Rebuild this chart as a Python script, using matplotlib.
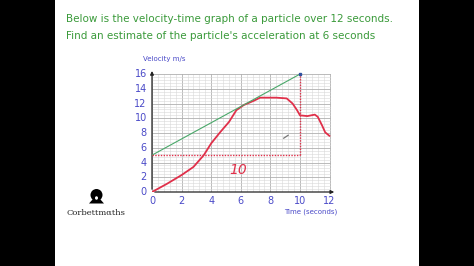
import matplotlib.pyplot as plt
from matplotlib.patches import Rectangle, Ellipse, Polygon

# -----------------------------
# Data
# -----------------------------
time = [0, 1, 2, 2.8, 3.5, 4.0, 4.6, 5.2, 5.7, 6.2, 6.9, 7.3, 8.4, 9.1,
        9.5, 9.8, 10.0, 10.5, 11.0, 11.2, 11.5, 11.7, 12.0]
velocity = [0, 1.1, 2.3, 3.4, 5.0, 6.6, 8.1, 9.5, 11.1, 11.8, 12.4, 12.8,
            12.8, 12.7, 12.0, 11.1, 10.4, 10.3, 10.5, 10.2, 9.0, 8.1, 7.6]

tangent_t = [0, 10]
tangent_v = [5, 16]

x_ticks = [0, 2, 4, 6, 8, 10, 12]
y_ticks = [0, 2, 4, 6, 8, 10, 12, 14, 16]

blue = '#4a4ac8'
red = '#e0304a'
green = '#3a9a3a'

W, H = 474, 266


def fx(px):
    return px / W


def fy(py):
    return 1 - py / H


# -----------------------------
# Figure
# -----------------------------
fig = plt.figure(figsize=(4.74, 2.66), dpi=100)
fig.patch.set_facecolor('black')
fig.patches.append(Rectangle((fx(55), 0), 364 / W, 1, transform=fig.transFigure,
                             facecolor='white', edgecolor='none', zorder=-5))

fig.text(fx(66), fy(22), 'Below is the velocity-time graph of a particle over 12 seconds.',
         color=green, fontsize=7.5, va='baseline')
fig.text(fx(66), fy(39), "Find an estimate of the particle's acceleration at 6 seconds",
         color=green, fontsize=7.5, va='baseline')

ax = fig.add_axes([fx(152), 74 / H, 12.5 * 14.8 / W, 16.8 * 7.37 / H])
ax.set_xlim(0, 12.5)
ax.set_ylim(0, 16.8)
ax.axis('off')

# graph paper grid
for i in range(31):
    x = i * 0.4
    major = i % 5 == 0
    ax.plot([x, x], [0, 16], color='#b0b0b0' if major else '#d8d8d8',
            lw=0.6 if major else 0.4, zorder=1)
for i in range(41):
    y = i * 0.4
    major = i % 5 == 0
    ax.plot([0, 12], [y, y], color='#b0b0b0' if major else '#d8d8d8',
            lw=0.6 if major else 0.4, zorder=1)

# axes with arrows
ax.annotate('', xy=(12.5, 0), xytext=(0, 0),
            arrowprops=dict(arrowstyle='-|>', color='#222222', lw=0.9, mutation_scale=5))
ax.annotate('', xy=(0, 16.8), xytext=(0, 0),
            arrowprops=dict(arrowstyle='-|>', color='#222222', lw=0.9, mutation_scale=5))

for t in x_ticks:
    ax.text(t, -0.6, str(t), color=blue, fontsize=7, ha='center', va='top')
for v in y_ticks:
    ax.text(-0.35, v, str(v), color=blue, fontsize=7, ha='right', va='center')

ax.text(-0.6, 17.6, 'Velocity m/s', color=blue, fontsize=5, ha='left', va='bottom')
ax.text(12.5, -2.3, 'Time (seconds)', color=blue, fontsize=5, ha='right', va='top')

# curve, tangent and triangle
ax.plot(time, velocity, color=red, lw=1.3, zorder=3, solid_capstyle='round')
ax.plot(tangent_t, tangent_v, color='#4aa86a', lw=0.8, zorder=3)
ax.plot([0, 10], [5, 5], color=red, lw=1.0, ls=(0, (1, 1)), zorder=3)
ax.plot([10, 10], [5, 16], color=red, lw=1.0, ls=(0, (1, 1)), zorder=3)
ax.plot([10], [16], marker='s', ms=1.5, color='#3050a0', zorder=4)
ax.text(5.85, 3.0, '10', color=red, fontsize=10, ha='center', va='center', style='italic')
ax.plot([8.9, 9.2], [7.3, 7.7], color='#777777', lw=0.9, zorder=4)

# logo
fig.patches.append(Ellipse((fx(96.5), fy(195)), 12 / W, 12 / H, transform=fig.transFigure,
                           facecolor='black', edgecolor='none'))
fig.patches.append(Polygon([(fx(96.5), fy(195)), (fx(89), fy(203.5)), (fx(104), fy(203.5))],
                           closed=True, transform=fig.transFigure,
                           facecolor='black', edgecolor='none'))
fig.patches.append(Ellipse((fx(96.5), fy(198)), 3 / W, 3.5 / H, transform=fig.transFigure,
                           facecolor='white', edgecolor='none'))
fig.text(fx(96), fy(215), 'Corbettm\u03b1ths', family='DejaVu Serif', fontsize=6,
         color='#222222', ha='center', va='baseline')

fig.savefig('out.png', dpi=100, facecolor=fig.get_facecolor())
